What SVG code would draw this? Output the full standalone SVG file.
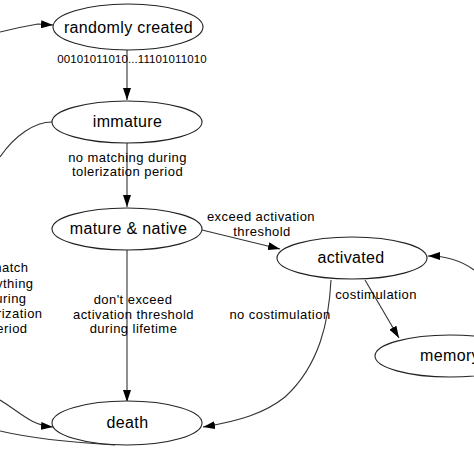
<svg xmlns="http://www.w3.org/2000/svg" width="474" height="474" viewBox="0 0 474 474">
<defs>
<marker id="arr" viewBox="0 0 12 8" refX="12" refY="4" markerWidth="12" markerHeight="8" markerUnits="userSpaceOnUse" orient="auto">
<path d="M0,0 L12,4 L0,8 Z" fill="#000"/>
</marker>
<style>
.node ellipse{fill:#fff;stroke:#222;stroke-width:1.1}
.node text{font-family:"Liberation Sans",Arial,sans-serif;font-size:16px;letter-spacing:0.35px;text-anchor:middle;fill:#000}
.edges path{fill:none;stroke:#333;stroke-width:1.1}
.lbl{font-family:"Liberation Sans",Arial,sans-serif;font-size:13px;letter-spacing:0.45px;text-anchor:middle;fill:#000}
.lbl.end{text-anchor:end}
.lbl.bin{font-size:11.5px;letter-spacing:0.1px}
</style>
</defs>
<rect width="474" height="474" fill="#fff"/>
<g class="edges">
<path d="M0,32 Q20,27 38,24 L53,25" marker-end="url(#arr)"/>
<path d="M127,50 L127,100" marker-end="url(#arr)"/>
<path d="M127,143 L127,207" marker-end="url(#arr)"/>
<path d="M127,250 L127,402" marker-end="url(#arr)"/>
<path d="M202,230 L280,249" marker-end="url(#arr)"/>
<path d="M365,280 L399,338" marker-end="url(#arr)"/>
<path d="M474,270 C462,261 448,256 428,256" marker-end="url(#arr)"/>
<path d="M331,280 C329,320 320,365 285,397 C265,413 240,421 203,427" marker-end="url(#arr)"/>
<path d="M52,122 C35,122 15,135 0,157"/>
<path d="M0,400 C20,412 30,425 53,427" marker-end="url(#arr)"/>
<path d="M115,445 C80,443 30,438 0,431"/>
</g>
<g id="randomly_created" class="node"><ellipse cx="128" cy="27" rx="75" ry="23"/><text x="128.5" y="33">randomly created</text></g>
<g id="immature" class="node"><ellipse cx="127" cy="122" rx="75" ry="21"/><text x="127.5" y="127">immature</text></g>
<g id="mature_native" class="node"><ellipse cx="127" cy="229" rx="75" ry="21"/><text x="128.5" y="234">mature &amp; native</text></g>
<g id="activated" class="node"><ellipse cx="352" cy="258" rx="75" ry="21"/><text x="351" y="263">activated</text></g>
<g id="memory" class="node"><ellipse cx="450" cy="356" rx="75" ry="21"/><text x="450" y="361">memory</text></g>
<g id="death" class="node"><ellipse cx="127" cy="423" rx="75" ry="22"/><text x="127.5" y="428">death</text></g>
<g id="labels">
<text class="lbl bin" x="132" y="63">00101011010...11101011010</text>
<text class="lbl" x="127.5" y="162">no matching during</text>
<text class="lbl" x="127.5" y="176">tolerization period</text>
<text class="lbl" x="133" y="304">don't exceed</text>
<text class="lbl" x="133.5" y="319">activation threshold</text>
<text class="lbl" x="133.5" y="333">during lifetime</text>
<text class="lbl end" x="28.5" y="272">no match</text>
<text class="lbl end" x="33.5" y="288">everything</text>
<text class="lbl end" x="26.5" y="303">during</text>
<text class="lbl end" x="42.5" y="318">tolerization</text>
<text class="lbl end" x="27.5" y="333">period</text>
<text class="lbl" x="261" y="221">exceed activation</text>
<text class="lbl" x="262" y="236">threshold</text>
<text class="lbl" x="376" y="299">costimulation</text>
<text class="lbl" x="280" y="319">no costimulation</text>
</g>
</svg>
